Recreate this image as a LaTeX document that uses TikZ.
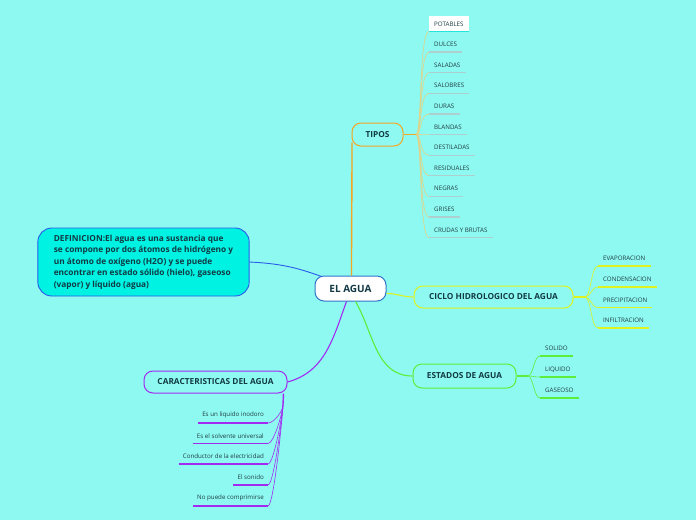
\documentclass[tikz,border=0pt]{standalone}
\usepackage{fontspec}
\setmainfont{Open Sans}
\usetikzlibrary{calc}
\definecolor{bg}{HTML}{8EF9F0}
\definecolor{txt}{HTML}{1F3D45}
\definecolor{ttl}{HTML}{123A44}
\definecolor{aguablue}{HTML}{2E74C8}
\definecolor{defblue}{HTML}{2A5BEA}
\definecolor{deffill}{HTML}{00F2E2}
\definecolor{orng}{HTML}{F5A623}
\definecolor{pale}{HTML}{E3D283}
\definecolor{yel}{HTML}{DDF21E}
\definecolor{grn}{HTML}{5CEE3A}
\definecolor{prp}{HTML}{A22BF2}
\definecolor{gry}{HTML}{AECFD0}
\definecolor{cyn}{HTML}{22E6DE}
\begin{document}
\begin{tikzpicture}[x=1pt,y=-1pt,
  branch/.style={draw, rounded corners=9pt, line width=1pt, fill=bg, text=ttl,
     font=\bfseries\fontsize{8.3}{9}\selectfont, inner sep=0pt},
  item/.style={inner xsep=5pt, inner ysep=0pt, minimum height=15pt, text=txt,
     font=\fontsize{6.2}{7}\selectfont},
  uline/.style={line width=1.3pt},
  fan/.style={line width=0.6pt}
]
\fill[bg] (0,0) rectangle (696,520);
\useasboundingbox (0,0) rectangle (696,520);

% central node
\node[draw=aguablue, line width=1pt, fill=white, rounded corners=9pt,
  minimum width=71pt, minimum height=25pt, inner sep=0pt, text=ttl,
  font=\bfseries\fontsize{10}{12}\selectfont] (agua) at (350.5,288.5) {EL AGUA};

% definition
\node[draw=defblue, line width=0.9pt, fill=deffill, rounded corners=14pt,
  minimum width=211pt, minimum height=68pt, inner xsep=16pt, align=left, text=ttl,
  font=\bfseries\fontsize{8.3}{11.5}\selectfont] (def) at (143.5,262)
  {DEFINICION:El agua es una sustancia que\\se compone por dos átomos de hidrógeno y\\un átomo de oxígeno (H2O) y se puede\\encontrar en estado sólido (hielo), gaseoso\\(vapor) y líquido (agua)};
\draw[defblue, line width=0.9pt] (def.east) to[out=-3,in=160] ($(agua.north west)+(7,1)$);

% TIPOS
\node[branch, draw=orng, minimum width=51pt, minimum height=23pt] (tipos) at (377.5,134.5) {TIPOS};
\draw[orng, line width=1.4pt] ($(agua.north)+(1,0)$) to[out=90,in=-90] ($(tipos.west)+(0.5,8)$);
\coordinate (tf) at (416,134.5);
\draw[orng, line width=1.6pt] (tipos.east) -- (tf);
\node[item, anchor=south west, fill=white] (t1) at (429,31.5) {POTABLES};
\draw[cyn, uline] (t1.south west) -- (t1.south east);
\draw[pale, fan] (tf) .. controls +(6,0) and +(-10,0) .. (t1.south west);
\foreach \i/\t in {2/DULCES,3/SALADAS,4/SALOBRES,5/DURAS,6/BLANDAS,7/DESTILADAS,8/RESIDUALES,9/NEGRAS,10/GRISES,11/CRUDAS Y BRUTAS}{
  \node[item, anchor=south west] (t\i) at (429,{31.5+20.62*(\i-1)}) {\t};
  \draw[gry, uline] (t\i.south west) -- (t\i.south east);
  \draw[pale, fan] (tf) .. controls +(6,0) and +(-10,0) .. (t\i.south west);
}

% CICLO
\node[branch, draw=yel, minimum width=159pt, minimum height=22pt] (ciclo) at (493.5,297) {CICLO HIDROLOGICO DEL AGUA};
\draw[yel, line width=1.1pt] ($(agua.east)+(0,5)$) to[out=0,in=180] (ciclo.west);
\coordinate (cf) at (585,297);
\draw[yel, line width=1.4pt] (ciclo.east) -- (cf);
\foreach \i/\t/\y in {1/EVAPORACION/266,2/CONDENSACION/287,3/PRECIPITACION/307.5,4/INFILTRACION/328}{
  \node[item, anchor=south west] (c\i) at (598,\y) {\t};
  \draw[yel, line width=1.6pt] (c\i.south west) -- (c\i.south east);
  \draw[yel, fan] (cf) .. controls +(6,0) and +(-7,0) .. (c\i.south west);
}

% ESTADOS
\node[branch, draw=grn, minimum width=103pt, minimum height=24pt] (estados) at (464.5,376) {ESTADOS DE AGUA};
\draw[grn, line width=1.1pt] ($(agua.south)+(5,0)$) to[out=-60,in=180] (estados.west);
\coordinate (ef) at (528,376);
\draw[grn, line width=1.4pt] (estados.east) -- (ef);
\foreach \i/\t/\y in {1/SOLIDO/356,2/LIQUIDO/377,3/GASEOSO/398}{
  \node[item, anchor=south west] (e\i) at (540,\y) {\t};
  \draw[grn, line width=1.6pt] (e\i.south west) -- (e\i.south east);
  \draw[grn, fan] (ef) .. controls +(5,0) and +(-6,0) .. (e\i.south west);
}

% CARACTERISTICAS
\node[branch, draw=prp, minimum width=143pt, minimum height=22pt] (carac) at (215.5,382) {CARACTERISTICAS DEL AGUA};
\draw[prp, line width=1.1pt] ($(agua.south)+(-4,0)$) to[out=-110,in=15] (carac.east);
\coordinate (kf) at (283,405);
\draw[prp, line width=1.4pt] ($(carac.south east)+(-4,0)$) -- (kf);
\foreach \i/\t/\y in {1/Es un liquido inodoro/423,2/Es el solvente universal/443.5,3/Conductor de la electricidad/464,4/El sonido/485,5/No puede comprimirse/506}{
  \node[item, anchor=south east, inner xsep=4pt] (k\i) at (268,\y) {\t};
  \draw[prp, line width=1.6pt] (k\i.south west) -- (k\i.south east);
  \draw[prp, fan] (kf) .. controls +(0,6) and +(6,0) .. (k\i.south east);
}
\end{tikzpicture}
\end{document}
